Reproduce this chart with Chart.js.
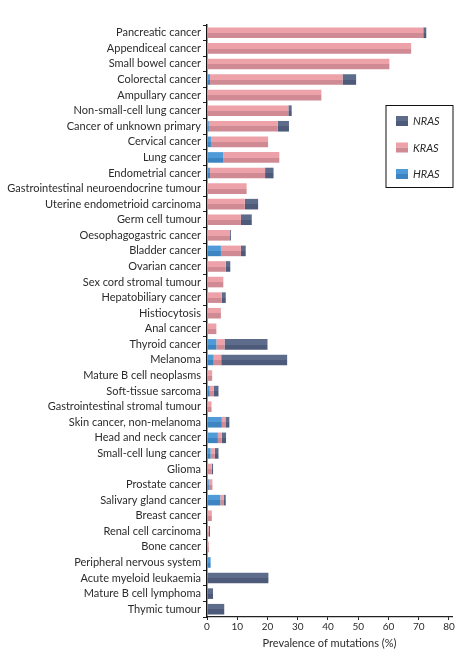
<!DOCTYPE html>
<html>
<head>
<meta charset="utf-8">
<script src="https://cdn.jsdelivr.net/npm/chart.js@4.4.1/dist/chart.umd.min.js"></script>
<style>
html,body{margin:0;padding:0;background:#fff;}
#wrap{width:462px;height:659px;position:relative;}
</style>
</head>
<body>
<div id="wrap"><canvas id="c" width="462" height="659"></canvas></div>
<script>
const categories = [
  "Pancreatic cancer","Appendiceal cancer","Small bowel cancer","Colorectal cancer",
  "Ampullary cancer","Non-small-cell lung cancer","Cancer of unknown primary","Cervical cancer",
  "Lung cancer","Endometrial cancer","Gastrointestinal neuroendocrine tumour","Uterine endometrioid carcinoma",
  "Germ cell tumour","Oesophagogastric cancer","Bladder cancer","Ovarian cancer",
  "Sex cord stromal tumour","Hepatobiliary cancer","Histiocytosis","Anal cancer",
  "Thyroid cancer","Melanoma","Mature B cell neoplasms","Soft-tissue sarcoma",
  "Gastrointestinal stromal tumour","Skin cancer, non-melanoma","Head and neck cancer","Small-cell lung cancer",
  "Glioma","Prostate cancer","Salivary gland cancer","Breast cancer",
  "Renal cell carcinoma","Bone cancer","Peripheral nervous system","Acute myeloid leukaemia",
  "Mature B cell lymphoma","Thymic tumour"
];
const hras = [0,0,0,1,0,0.2,0.6,1.3,5.3,1,0,0,0,0,4.6,0,0,0,0,0,3.1,2.2,0,0.9,0,4.9,3.6,1.2,0.2,0.6,4.4,0.2,0,0,1.2,0,0,0];
const kras = [71.5,67.5,60.3,43.8,37.8,26.7,22.8,18.9,18.6,18.2,13.1,12.5,11.2,7.6,6.6,6.2,5.4,4.9,4.6,3.1,2.7,2.5,1.7,1.4,1.5,1.2,1.3,1.4,1.4,1.2,1.2,1.4,0.6,0.6,0,0,0,0];
const nras = [1,0,0,4.5,0,1.1,3.7,0,0,2.8,0,4.4,3.6,0.3,1.6,1.5,0,1.3,0,0,14.2,21.8,0,1.5,0,1.3,1.4,1.2,0.4,0,0.6,0,0.4,0,0,20.3,2,5.7];
const xTicks = [0,10,20,30,40,50,60,70,80];
const axisTitle = "Prevalence of mutations (%)";

const COLORS = {
  NRAS: ["#5d6c8b", "#4d5a79"],
  KRAS: ["#eca2a8", "#d08a93"],
  HRAS: ["#4f9bd7", "#3d84c2"]
};
const BAR_PCT = 0.68;

function twoTone(name) {
  return function(ctx) {
    const chart = ctx.chart;
    const y = chart.scales && chart.scales.y;
    if (!y || ctx.dataIndex === undefined) return COLORS[name][0];
    const c = y.getPixelForValue(ctx.dataIndex);
    const step = Math.abs(y.getPixelForValue(1) - y.getPixelForValue(0));
    const h = step * BAR_PCT;
    if (!isFinite(c) || !isFinite(h) || h <= 0) return COLORS[name][0];
    const g = chart.ctx.createLinearGradient(0, c - h / 2, 0, c + h / 2);
    g.addColorStop(0, COLORS[name][0]);
    g.addColorStop(0.52, COLORS[name][0]);
    g.addColorStop(0.52, COLORS[name][1]);
    g.addColorStop(1, COLORS[name][1]);
    return g;
  };
}

const legendPlugin = {
  id: 'boxLegend',
  afterDraw(chart) {
    const ctx = chart.ctx;
    const a = chart.chartArea;
    const x0 = a.right - 66, y0 = a.top + 80.5, w = 67, h = 82;
    ctx.save();
    ctx.fillStyle = '#fff';
    ctx.fillRect(x0, y0, w, h);
    ctx.strokeStyle = '#111';
    ctx.lineWidth = 1;
    ctx.strokeRect(x0, y0, w, h);
    const items = [chart.data.datasets[2], chart.data.datasets[1], chart.data.datasets[0]];
    items.forEach((ds, i) => {
      const cy = y0 + 15.5 + i * 26.5;
      const col = COLORS[ds.label];
      ctx.fillStyle = col[0];
      ctx.fillRect(x0 + 10, cy - 5, 12, 5);
      ctx.fillStyle = col[1];
      ctx.fillRect(x0 + 10, cy, 12, 5);
      ctx.fillStyle = '#2b2b2b';
      ctx.font = 'italic 11px Lato';
      ctx.textBaseline = 'middle';
      ctx.textAlign = 'left';
      ctx.fillText(ds.label, x0 + 27, cy + 0.5);
    });
    ctx.restore();
  }
};

new Chart(document.getElementById('c'), {
  type: 'bar',
  data: {
    labels: categories,
    datasets: [
      { label: 'HRAS', data: hras, backgroundColor: twoTone('HRAS') },
      { label: 'KRAS', data: kras, backgroundColor: twoTone('KRAS') },
      { label: 'NRAS', data: nras, backgroundColor: twoTone('NRAS') }
    ]
  },
  options: {
    indexAxis: 'y',
    responsive: false,
    animation: false,
    devicePixelRatio: 1,
    layout: { padding: { left: 0, right: 10, top: 25, bottom: 9 } },
    datasets: { bar: { barPercentage: BAR_PCT, categoryPercentage: 1, borderWidth: 0 } },
    plugins: { legend: { display: false }, tooltip: { enabled: false } },
    scales: {
      x: {
        type: 'linear',
        stacked: true,
        min: 0,
        max: 81,
        afterBuildTicks(scale) { scale.ticks = xTicks.map(v => ({ value: v })); },
        afterFit(scale) { scale.height = 33; },
        border: { color: '#222', width: 1.2 },
        grid: { drawOnChartArea: false, tickLength: 3, color: '#222', tickWidth: 1 },
        ticks: { color: '#2b2b2b', font: { family: 'Lato', size: 10 }, padding: 1, maxRotation: 0, autoSkip: false },
        title: { display: true, text: axisTitle, color: '#2b2b2b', font: { family: 'Lato', size: 11 }, padding: { top: 2, bottom: 0 } }
      },
      y: {
        stacked: true,
        afterFit(scale) { scale.width = 207; },
        border: { color: '#111', width: 1.4 },
        grid: { drawOnChartArea: false, tickLength: 4, color: '#222', tickWidth: 1, offset: true },
        ticks: { color: '#2b2b2b', font: { family: 'Lato', size: 11 }, padding: 2, autoSkip: false }
      }
    }
  },
  plugins: [legendPlugin]
});
</script>
</body>
</html>
